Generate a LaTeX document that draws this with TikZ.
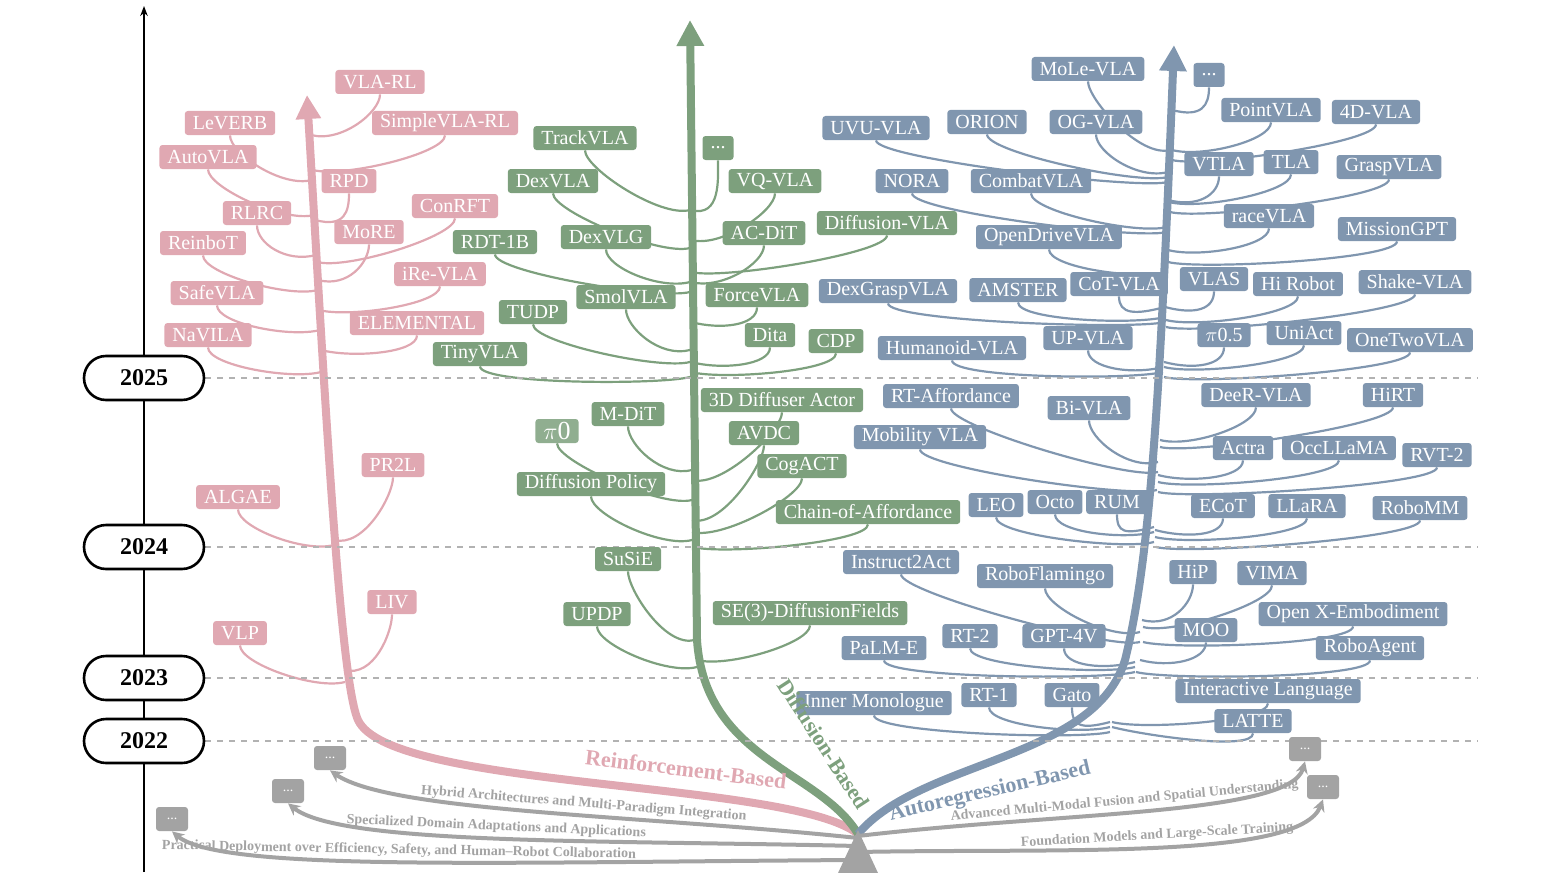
\documentclass[tikz,border=0pt]{standalone}
\usepackage{fontspec}
\setmainfont{Liberation Serif}
\usetikzlibrary{arrows.meta}
\pgfdeclarelayer{background}
\pgfsetlayers{background,main}
\definecolor{pk}{HTML}{E0A8B2}
\definecolor{gn}{HTML}{7DA07D}
\definecolor{bl}{HTML}{8096AF}
\definecolor{gy}{HTML}{A3A3A3}
\tikzset{
 boxbase/.style={text=white,rounded corners=1.5pt,inner xsep=4pt,inner ysep=1pt,minimum height=12pt,font=\fontsize{10}{12}\selectfont},
 pbox/.style={boxbase,fill=pk}, gbox/.style={boxbase,fill=gn}, bbox/.style={boxbase,fill=bl},
 ybox/.style={boxbase,fill=gy,minimum width=16pt,font=\fontsize{7}{8}\selectfont},
 pline/.style={draw=pk,line width=1.1pt}, gline/.style={draw=gn,line width=1.1pt}, bline/.style={draw=bl,line width=1.1pt},
 year/.style={draw,line width=1.3pt,rounded corners=11pt,minimum width=60pt,minimum height=22pt,fill=white,font=\fontsize{12}{14}\selectfont\bfseries},
 grid/.style={gray!60,dashed,line width=0.6pt},
 garrow/.style={draw=gy,line width=2pt,-{Stealth[length=6pt,width=6pt]}},
 glabel/.style={text=gy,font=\fontsize{7}{8}\selectfont\bfseries,inner sep=1.5pt,sloped,above},
}
\newcommand\bx[8]{\node[#1box] (#2) at (#3,#4) {#5};
 \begin{pgfonlayer}{background}\draw[#1line] (#2.south) .. controls +(0,18) and +(#8,8) .. (#6,#7);\end{pgfonlayer}}
\begin{document}
\begin{tikzpicture}[x=0.5pt,y=-0.5pt]
\useasboundingbox (0,0) rectangle (1567,872);
% axis and years
\draw[line width=1pt,-{Stealth[length=5pt]}] (144,872) -- (144,6);
\foreach \yy in {378,547,678,741} \draw[grid] (205,\yy) -- (1478,\yy);
\node[year] (y25) at (144,378) {2025};
\node[year] (y24) at (144,547) {2024};
\node[year] (y23) at (144,678) {2023};
\node[year] (y22) at (144,741) {2022};
% trunks
\coordinate (root) at (858,834);
\begin{pgfonlayer}{background}
\draw[draw=pk,line width=4pt,-{Triangle[length=12pt,width=12pt]}] (root) .. controls (790,780) and (390,790) .. (358,720) .. controls (340,680) and (325,400) .. (307,95);
\draw[draw=gn,line width=4pt,-{Triangle[length=13pt,width=13pt]}] (root) .. controls (820,770) and (705,760) .. (697,640) -- (690,20);
\draw[draw=bl,line width=4pt,-{Triangle[length=13pt,width=13pt]}] (root) .. controls (920,760) and (1095,760) .. (1125,660) .. controls (1150,560) and (1160,400) .. (1174,45);
\end{pgfonlayer}
% pink
\bx{p}{p1}{380}{82}{VLA-RL}{311}{135}{30}
\bx{p}{p2}{230}{123}{LeVERB}{312}{180}{-30}
\bx{p}{p3}{445}{123}{SimpleVLA-RL}{313}{170}{30}
\bx{p}{p4}{208}{157}{AutoVLA}{314}{215}{-30}
\bx{p}{p5}{349}{181}{RPD}{315}{220}{30}
\bx{p}{p6}{257}{213}{RLRC}{316}{255}{-30}
\bx{p}{p7}{455}{206}{ConRFT}{317}{262}{30}
\bx{p}{p8}{369}{232}{MoRE}{318}{280}{30}
\bx{p}{p9}{203}{243}{ReinboT}{318}{290}{-30}
\bx{p}{p10}{440}{274}{iRe-VLA}{319}{310}{30}
\bx{p}{p11}{217}{293}{SafeVLA}{320}{330}{-30}
\bx{p}{p12}{417}{323}{ELEMENTAL}{321}{350}{30}
\bx{p}{p13}{208}{335}{NaVILA}{321}{372}{-30}
\bx{p}{p14}{393}{465}{PR2L}{334}{540}{30}
\bx{p}{p15}{238}{497}{ALGAE}{334}{545}{-30}
\bx{p}{p16}{392}{602}{LIV}{344}{670}{30}
\bx{p}{p17}{240}{633}{VLP}{345}{682}{-30}
% green
\bx{g}{g1}{585}{138}{TrackVLA}{690}{210}{-30}
\bx{g}{g2}{718}{148}{...}{691}{210}{30}
\bx{g}{g3}{553}{181}{DexVLA}{690}{248}{-30}
\bx{g}{g4}{775}{181}{VQ-VLA}{691}{240}{30}
\bx{g}{g5}{606}{237}{DexVLG}{690}{282}{-30}
\bx{g}{g6}{887}{223}{Diffusion-VLA}{691}{272}{30}
\bx{g}{g7}{495}{242}{RDT-1B}{690}{292}{-30}
\bx{g}{g8}{764}{233}{AC-DiT}{691}{282}{30}
\bx{g}{g9}{626}{297}{SmolVLA}{690}{350}{-30}
\bx{g}{g10}{757}{295}{ForceVLA}{691}{322}{30}
\bx{g}{g11}{533}{312}{TUDP}{690}{362}{-30}
\bx{g}{g12}{770}{335}{Dita}{691}{362}{30}
\bx{g}{g13}{836}{341}{CDP}{691}{372}{30}
\bx{g}{g14}{480}{354}{TinyVLA}{690}{377}{-30}
\bx{g}{g15}{782}{400}{3D Diffuser Actor}{692}{480}{30}
\bx{g}{g16}{628}{414}{M-DiT}{692}{470}{-30}
\node[boxbase,fill=gn!85,font=\fontsize{13}{14}\selectfont] (g17) at (557,431) {$\pi$0};
\begin{pgfonlayer}{background}\draw[gline] (g17.south) .. controls +(0,18) and +(-30,8) .. (692,500);\end{pgfonlayer}
\bx{g}{g18}{764}{433}{AVDC}{692}{520}{30}
\bx{g}{g19}{802}{466}{CogACT}{692}{532}{30}
\bx{g}{g20}{591}{484}{Diffusion Policy}{692}{540}{-30}
\bx{g}{g21}{868}{512}{Chain-of-Affordance}{693}{547}{30}
\bx{g}{g22}{628}{559}{SuSiE}{695}{640}{-30}
\bx{g}{g23}{597}{614}{UPDP}{697}{667}{-30}
\bx{g}{g24}{810}{613}{SE(3)-DiffusionFields}{697}{660}{30}
% blue
\bx{b}{b1}{1088}{69}{MoLe-VLA}{1170}{150}{-30}
\bx{b}{b2}{1209}{75}{...}{1172}{110}{30}
\bx{b}{b3}{1271}{110}{PointVLA}{1172}{150}{30}
\bx{b}{b4}{1376}{112}{4D-VLA}{1172}{160}{30}
\bx{b}{b5}{876}{128}{UVU-VLA}{1168}{182}{-30}
\bx{b}{b6}{987}{122}{ORION}{1168}{177}{-30}
\bx{b}{b7}{1096}{122}{OG-VLA}{1168}{172}{-30}
\bx{b}{b8}{1219}{164}{VTLA}{1168}{200}{30}
\bx{b}{b9}{1291}{162}{TLA}{1169}{202}{30}
\bx{b}{b10}{1389}{167}{GraspVLA}{1170}{212}{30}
\bx{b}{b11}{912}{181}{NORA}{1167}{232}{-30}
\bx{b}{b12}{1031}{181}{CombatVLA}{1167}{227}{-30}
\bx{b}{b13}{1269}{216}{raceVLA}{1168}{250}{30}
\bx{b}{b14}{1397}{229}{MissionGPT}{1168}{262}{30}
\bx{b}{b15}{1049}{237}{OpenDriveVLA}{1166}{272}{-30}
\bx{b}{b16}{888}{291}{DexGraspVLA}{1165}{322}{-30}
\bx{b}{b17}{1018}{290}{AMSTER}{1165}{317}{-30}
\bx{b}{b18}{1119}{284}{CoT-VLA}{1165}{307}{-30}
\bx{b}{b19}{1214}{279}{VLAS}{1165}{307}{30}
\bx{b}{b20}{1298}{284}{Hi Robot}{1166}{320}{30}
\bx{b}{b21}{1415}{282}{Shake-VLA}{1166}{327}{30}
\bx{b}{b22}{952}{348}{Humanoid-VLA}{1163}{372}{-30}
\bx{b}{b23}{1088}{338}{UP-VLA}{1163}{367}{-30}
\bx{b}{b24}{1224}{335}{$\pi$0.5}{1164}{362}{30}
\bx{b}{b25}{1304}{333}{UniAct}{1164}{367}{30}
\bx{b}{b26}{1410}{340}{OneTwoVLA}{1164}{377}{30}
\bx{b}{b27}{951}{396}{RT-Affordance}{1158}{472}{-30}
\bx{b}{b28}{1089}{408}{Bi-VLA}{1158}{462}{-30}
\bx{b}{b29}{1256}{395}{DeeR-VLA}{1160}{440}{30}
\bx{b}{b30}{1393}{395}{HiRT}{1160}{447}{30}
\bx{b}{b31}{920}{437}{Mobility VLA}{1157}{490}{-30}
\bx{b}{b32}{1243}{448}{Actra}{1158}{475}{30}
\bx{b}{b33}{1339}{448}{OccLLaMA}{1158}{482}{30}
\bx{b}{b34}{1437}{455}{RVT-2}{1158}{492}{30}
\bx{b}{b35}{996}{505}{LEO}{1154}{542}{-30}
\bx{b}{b36}{1055}{502}{Octo}{1154}{532}{-30}
\bx{b}{b37}{1117}{502}{RUM}{1154}{527}{-30}
\bx{b}{b38}{1223}{506}{ECoT}{1155}{530}{30}
\bx{b}{b39}{1307}{506}{LLaRA}{1155}{537}{30}
\bx{b}{b40}{1420}{508}{RoboMM}{1156}{547}{30}
\bx{b}{b41}{901}{562}{Instruct2Act}{1140}{642}{-30}
\bx{b}{b42}{1045}{576}{RoboFlamingo}{1140}{632}{-30}
\bx{b}{b43}{1193}{572}{HiP}{1142}{620}{30}
\bx{b}{b44}{1272}{573}{VIMA}{1143}{627}{30}
\bx{b}{b45}{1353}{614}{Open X-Embodiment}{1143}{642}{30}
\bx{b}{b46}{1206}{630}{MOO}{1140}{660}{30}
\bx{b}{b47}{884}{648}{PaLM-E}{1135}{672}{-30}
\bx{b}{b48}{970}{636}{RT-2}{1135}{667}{-30}
\bx{b}{b49}{1064}{636}{GPT-4V}{1135}{662}{-30}
\bx{b}{b50}{1370}{648}{RoboAgent}{1136}{672}{30}
\bx{b}{b51}{874}{703}{Inner Monologue}{1110}{732}{-30}
\bx{b}{b52}{989}{695}{RT-1}{1110}{727}{-30}
\bx{b}{b53}{1072}{695}{Gato}{1110}{722}{-30}
\bx{b}{b54}{1268}{691}{Interactive Language}{1112}{722}{30}
\bx{b}{b55}{1253}{721}{LATTE}{1112}{727}{30}
% trunk labels
\node[text=pk,font=\fontsize{11}{12}\selectfont\bfseries,rotate=-7] (lr) at (686,769) {Reinforcement-Based};
\node[text=gn,font=\fontsize{11}{12}\selectfont\bfseries,rotate=-57] (lg) at (824,744) {Diffusion-Based};
\node[text=bl,font=\fontsize{11}{12}\selectfont\bfseries,rotate=13] (lb) at (990,792) {Autoregression-Based};
% gray bottom
\fill[gy] (858,830) -- (838,873) -- (878,873) -- cycle;
\node[ybox] (d1) at (330,758) {...};
\node[ybox] (d2) at (288,791) {...};
\node[ybox] (d3) at (172,819) {...};
\node[ybox] (d4) at (1305,749) {...};
\node[ybox] (d5) at (1323,787) {...};
\draw[garrow] (858,838) .. controls (640,815) and (390,812) .. (d1.south) node[glabel,pos=0.42] (t1) {Hybrid Architectures and Multi-Paradigm Integration};
\draw[garrow] (858,846) .. controls (600,840) and (340,845) .. (d2.south) node[glabel,pos=0.5] (t2) {Specialized Domain Adaptations and Applications};
\draw[garrow] (858,860) .. controls (500,862) and (220,872) .. (d3.south) node[glabel,pos=0.5] (t3) {Practical Deployment over Efficiency, Safety, and Human--Robot Collaboration};
\draw[garrow] (858,836) .. controls (1060,812) and (1290,815) .. (d4.south) node[glabel,pos=0.45] (t4) {Advanced Multi-Modal Fusion and Spatial Understanding};
\draw[garrow] (858,852) .. controls (1060,848) and (1300,860) .. (d5.south) node[glabel,pos=0.5] (t5) {Foundation Models and Large-Scale Training};
\end{tikzpicture}
\end{document}
